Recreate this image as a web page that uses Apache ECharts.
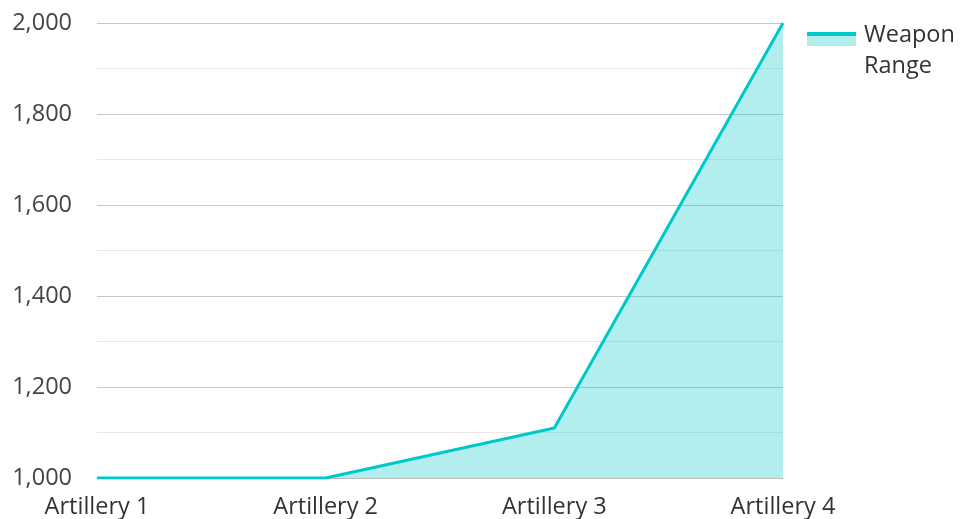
<!DOCTYPE html>
<html><head><meta charset="utf-8">
<script src="https://cdn.jsdelivr.net/npm/echarts@6/dist/echarts.min.js"></script>
<style>html,body{margin:0;padding:0;background:#fff}#c{width:960px;height:519px}</style>
</head><body><div id="c"></div>
<script>
const categories = ['Artillery 1', 'Artillery 2', 'Artillery 3', 'Artillery 4'];
const weaponRange = [1000, 1000, 1110, 2000];
const seriesName = 'Weapon\nRange';

const lineColor = '#00c8c8';
const chart = echarts.init(document.getElementById('c'));
chart.setOption({
  animation: false,
  textStyle: { fontFamily: 'Open Sans' },
  grid: { left: 97, right: 177, top: 23, bottom: 41, containLabel: false },
  legend: {
    left: 807, top: 20, padding: 0, orient: 'vertical',
    itemWidth: 49, itemHeight: 38, itemGap: 10,
    icon: 'rect',
    itemStyle: {
      color: { type: 'linear', x: 0, y: 0, x2: 0, y2: 1, colorStops: [
        { offset: 0, color: lineColor }, { offset: 0.1, color: lineColor },
        { offset: 0.1, color: '#b2eeee' }, { offset: 0.38, color: '#b2eeee' },
        { offset: 0.38, color: 'rgba(255,255,255,0)' }, { offset: 1, color: 'rgba(255,255,255,0)' }] },
      borderWidth: 0
    },
    lineStyle: { width: 0, opacity: 0 },
    textStyle: { fontSize: 23.5, color: '#333', fontFamily: 'Open Sans', lineHeight: 31, padding: [0, 0, 0, 3] }
  },
  xAxis: {
    type: 'category', data: categories, boundaryGap: false,
    axisLine: { show: true, lineStyle: { color: '#bbb', width: 1 } },
    axisTick: { show: false },
    axisLabel: { fontSize: 23.5, color: '#333', margin: 17, fontFamily: 'Open Sans' },
    splitLine: { show: false }
  },
  yAxis: {
    type: 'value', min: 1000, max: 2000, interval: 200,
    axisLine: { show: false }, axisTick: { show: false },
    axisLabel: { fontSize: 23.5, color: '#444', margin: 25, fontFamily: 'Open Sans',
      formatter: v => v.toLocaleString('en-US') },
    splitLine: { show: true, lineStyle: { color: '#c8c8c8', width: 1 } },
    minorTick: { show: false, splitNumber: 2 },
    minorSplitLine: { show: true, lineStyle: { color: '#e8e8e8', width: 1 } }
  },
  series: [{
    name: seriesName, type: 'line', data: weaponRange,
    symbol: 'none', showSymbol: false,
    lineStyle: { color: lineColor, width: 3 },
    itemStyle: { color: lineColor },
    areaStyle: { color: lineColor, opacity: 0.3 }
  }]
});
</script></body></html>
